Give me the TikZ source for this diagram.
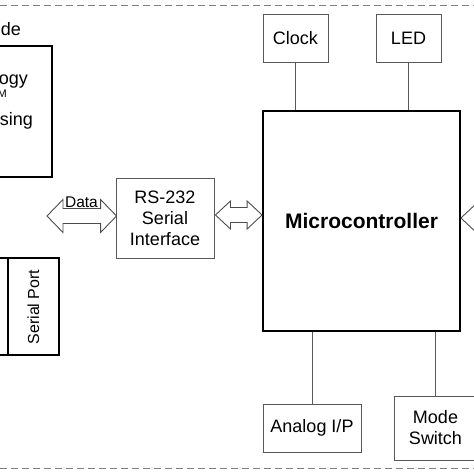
\documentclass[tikz,border=0pt]{standalone}
\usepackage{fontspec}
\setmainfont{Liberation Sans}
\usetikzlibrary{calc}
\tikzset{
  thinbox/.style={draw=black!65, line width=0.9pt, inner sep=0pt, align=center, font=\fontsize{18}{21}\selectfont},
  thickbox/.style={draw=black, line width=1.8pt, inner sep=0pt},
  link/.style={draw=black!65, line width=0.9pt},
  harrow/.style={draw=black!70, line width=0.9pt, line join=miter},
  sep/.style={draw=black!50, line width=0.9pt, dash pattern=on 7pt off 4pt},
  cuttext/.style={anchor=base east, inner sep=0pt, font=\fontsize{18}{21}\selectfont}
}
\begin{document}
\begin{tikzpicture}[x=1pt,y=-1pt]
\useasboundingbox (0,0) rectangle (474,474);
% separators
\draw[sep] (0,5) -- (474,5);
\draw[sep] (0,468) -- (474,468);
% left partial block
\node[thickbox, minimum width=62pt, minimum height=131pt] (host) at (21,111.5) {};
\node[cuttext] (t1) at (21,35) {de};
\node[cuttext] (t2) at (28,84) {ogy};
\node[cuttext, font=\fontsize{11}{13}\selectfont] (t3) at (7,97) {M};
\node[cuttext] (t4) at (33,125) {sing};
\node[thickbox, minimum width=18pt, minimum height=97pt] (hostb) at (-1,306.5) {};
\node[thickbox, minimum width=51pt, minimum height=97pt] (sp) at (33.5,306.5) {};
\node[rotate=90, font=\fontsize{16}{19}\selectfont, inner sep=0pt] (spt) at (33.5,307) {Serial Port};
% blocks
\node[thinbox, minimum width=98pt, minimum height=80pt] (rs) at (165,218) {RS-232\\Serial\\Interface};
\node[thickbox, minimum width=197pt, minimum height=220pt, font=\fontsize{21}{24}\selectfont\bfseries] (mc) at (361.5,221) {Microcontroller};
\node[thinbox, minimum width=65pt, minimum height=48pt] (clk) at (295.5,38) {Clock};
\node[thinbox, minimum width=65pt, minimum height=48pt] (led) at (408.5,38) {LED};
\node[thinbox, minimum width=98pt, minimum height=48pt] (adc) at (312,428) {Analog I/P};
\node[thinbox, minimum width=83pt, minimum height=64pt] (mode) at (435.5,428) {Mode\\Switch};
% links
\draw[link] (clk) -- (clk |- mc.north);
\draw[link] (led) -- (led |- mc.north);
\draw[link] (adc) -- (adc |- mc.south);
\draw[link] (mode) -- (mode |- mc.south);
% hollow double arrows
\coordinate (dl) at (47,216);
\coordinate (dr) at ($(rs.west |- dl)+(1,0)$);
\draw[harrow] (dl) -- ++(16,-16.5) -- ++(0,9) -- ($(dr)+(-16,-7.5)$) -- ++(0,-9) -- (dr)
  -- ++(-16,16.5) -- ++(0,-9) -- ($(dl)+(16,7.5)$) -- ++(0,9) -- cycle;
\node[anchor=base, inner sep=0pt, font=\fontsize{15.5}{18}\selectfont] (dlab) at (81.5,207.5) {Data};
\coordinate (ml) at ($(rs.east)+(1,-3)$);
\coordinate (mr) at (mc.west |- ml);
\draw[harrow] (ml) -- ++(15,-14) -- ++(0,6.5) -- ($(mr)+(-15,-7.5)$) -- ++(0,-6.5) -- (mr)
  -- ++(-15,14) -- ++(0,-6.5) -- ($(ml)+(15,7.5)$) -- ++(0,6.5) -- cycle;
\coordinate (rl) at ($(mc.east)+(0,-3)$);
\draw[harrow] (rl) -- ++(16,-15) -- ++(0,8) -- ++(30,0) -- ++(0,14) -- ++(-30,0) -- ++(0,8) -- cycle;
\end{tikzpicture}
\end{document}
